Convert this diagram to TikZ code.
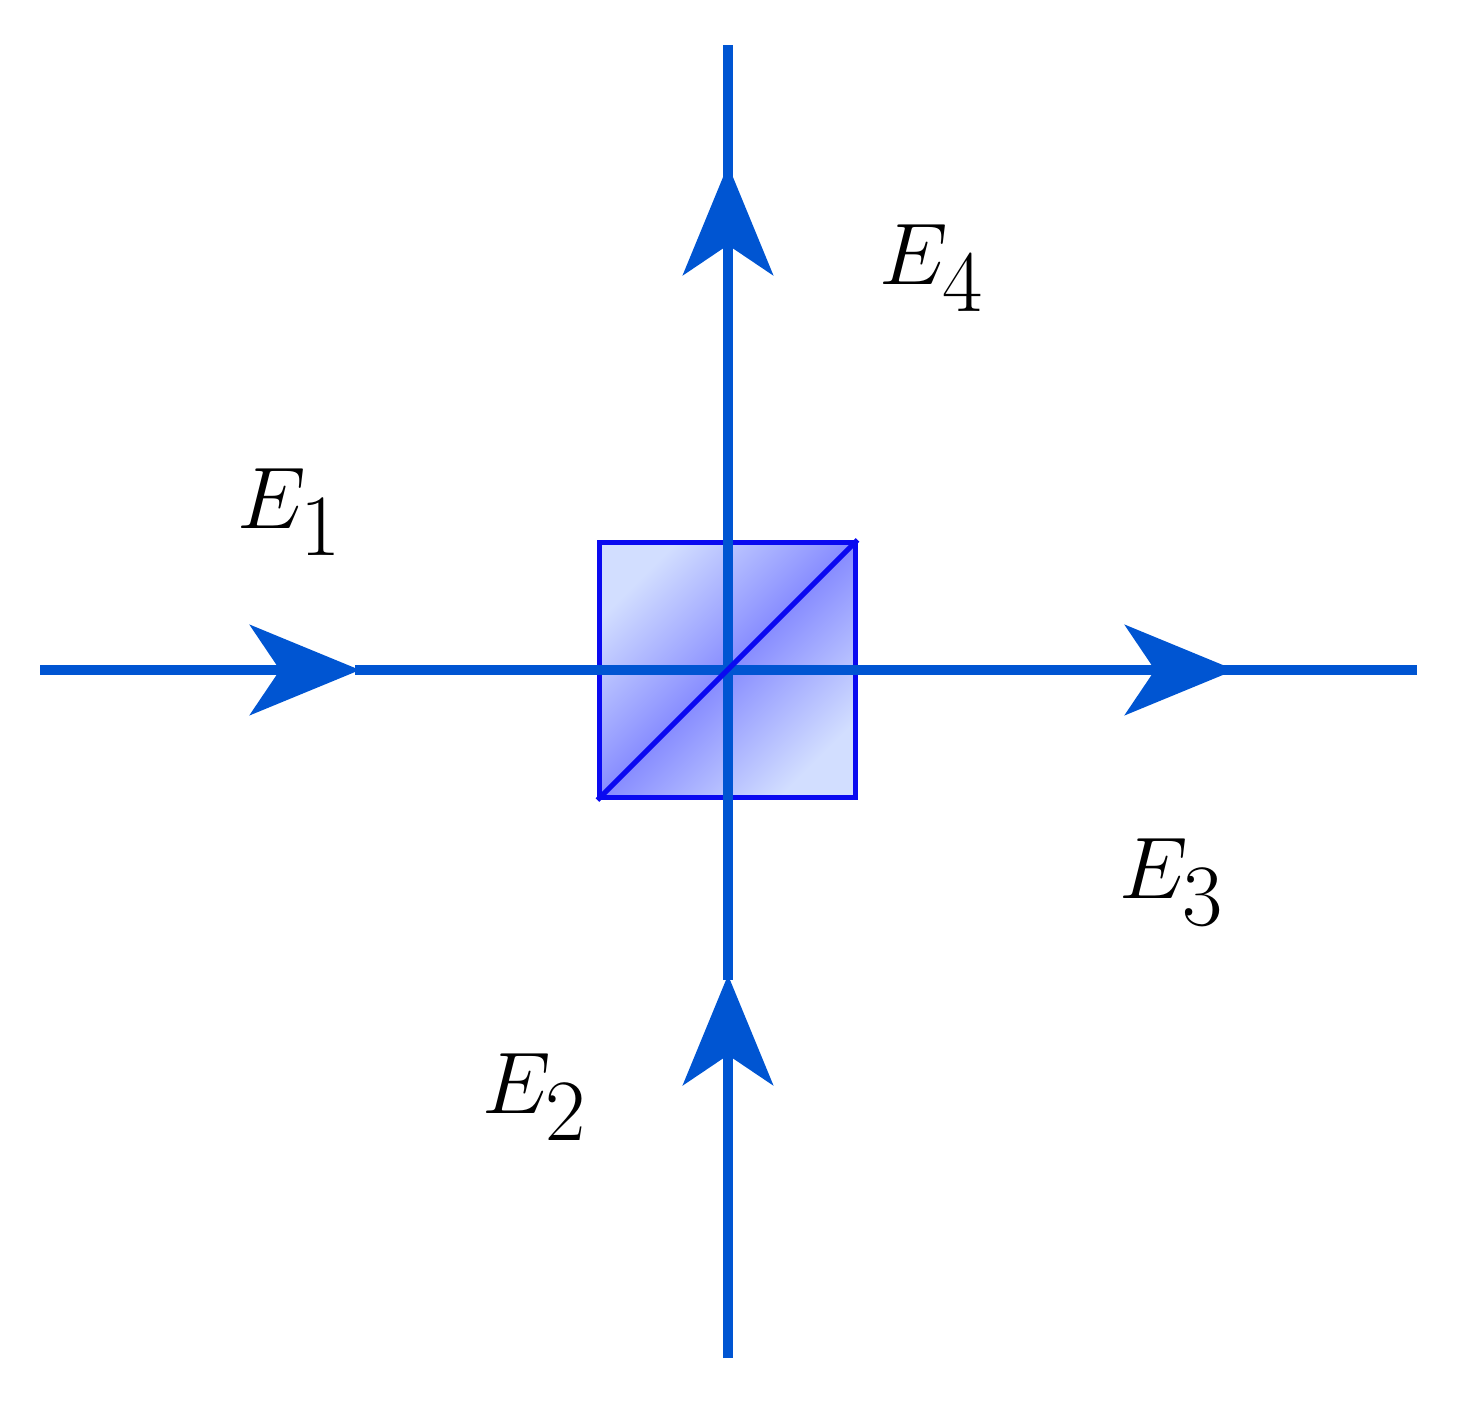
\documentclass[tikz,border=0pt]{standalone}
\usetikzlibrary{arrows.meta}
\definecolor{beamc}{RGB}{0,85,210}
\definecolor{boxc}{RGB}{10,10,240}
\definecolor{lightb}{RGB}{210,222,255}
\definecolor{darkb}{RGB}{135,140,255}
\begin{document}
\begin{tikzpicture}[x=0.01cm,y=-0.01cm,
  beam/.style={draw=beamc,line width=0.1cm},
  tip/.style={-{Stealth[length=1.1cm,width=0.9cm,inset=0.3cm]}},
  lab/.style={font=\fontsize{64}{76}\selectfont,inner sep=0pt}]
\useasboundingbox (0,0) rectangle (1473,1404);
\coordinate (L) at (40,670);
\coordinate (R) at (1417,670);
\coordinate (T) at (728,45);
\coordinate (B) at (728,1358);
\coordinate (C) at (728,670);
\coordinate (Lt) at (360,670);
\coordinate (Rt) at (1235,670);
\coordinate (Tt) at (728,165);
\coordinate (Bt) at (728,975);
\node (bs) [draw=boxc,line width=0.05cm,minimum size=2.55cm,inner sep=0pt,
  left color=lightb,right color=lightb,middle color=darkb,shading angle=45] at (727.5,670) {};
\draw[beam,tip] (L) -- (Lt);
\draw[beam] (355,670) -- (C) -- (R);
\draw[beam,tip] (C) -- (Rt);
\draw[beam,tip] (B) -- (Bt);
\draw[beam] (728,980) -- (C) -- (T);
\draw[beam,tip] (C) -- (Tt);
\draw[draw=boxc,line width=0.05cm] (bs.south west) -- (bs.north east);
\node[lab] (e1) at (290,512) {$E_1$};
\node[lab] (e2) at (535,1097) {$E_2$};
\node[lab] (e3) at (1172,882) {$E_3$};
\node[lab] (e4) at (932,268) {$E_4$};
\end{tikzpicture}
\end{document}
